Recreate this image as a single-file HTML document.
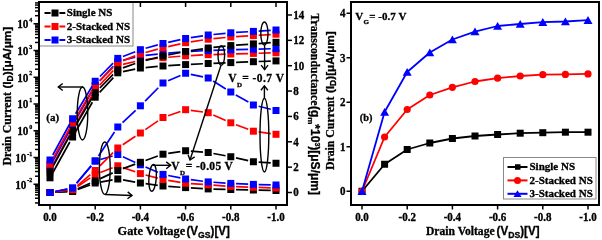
<!DOCTYPE html>
<html><head><meta charset="utf-8"><style>
html,body{margin:0;padding:0;background:#fff;}
svg{display:block;filter:blur(0.3px);}
text{stroke:#000;stroke-width:0.3px;}
</style></head><body>
<svg width="602" height="240" viewBox="0 0 602 240">
<rect width="602" height="240" fill="#fff"/>
<path d="M52.79 172.77L69.81 142.03 M75.45 131.98L92.35 102.22 M99.63 92.42L113.37 77.58 M123.01 71.69L135.19 69.11 M145.64 67.54L157.76 66.46 M168.25 65.67L180.35 64.93 M190.85 64.34L202.95 63.76 M213.45 63.29L225.55 62.81 M236.05 62.39L248.15 61.91 M258.65 61.51L270.75 61.09" fill="none" stroke="#000000" stroke-width="1.7"/>
<rect x="46.50" y="174.30" width="7" height="7" fill="#000000"/>
<rect x="69.10" y="133.50" width="7" height="7" fill="#000000"/>
<rect x="91.70" y="93.70" width="7" height="7" fill="#000000"/>
<rect x="114.30" y="69.30" width="7" height="7" fill="#000000"/>
<rect x="136.90" y="64.50" width="7" height="7" fill="#000000"/>
<rect x="159.50" y="62.50" width="7" height="7" fill="#000000"/>
<rect x="182.10" y="61.10" width="7" height="7" fill="#000000"/>
<rect x="204.70" y="60.00" width="7" height="7" fill="#000000"/>
<rect x="227.30" y="59.10" width="7" height="7" fill="#000000"/>
<rect x="249.90" y="58.20" width="7" height="7" fill="#000000"/>
<rect x="272.50" y="57.40" width="7" height="7" fill="#000000"/>
<path d="M52.79 165.17L69.81 134.43 M75.47 124.38L92.33 94.92 M99.66 85.12L113.34 70.48 M123.00 64.43L135.20 61.47 M145.64 59.62L157.76 58.28 M168.24 57.26L180.36 56.24 M190.85 55.54L202.95 54.96 M213.45 54.54L225.55 54.16 M236.05 53.86L248.15 53.54 M258.65 53.26L270.75 52.94" fill="none" stroke="#ff0000" stroke-width="1.7"/>
<rect x="46.50" y="166.70" width="7" height="7" fill="#ff0000"/>
<rect x="69.10" y="125.90" width="7" height="7" fill="#ff0000"/>
<rect x="91.70" y="86.40" width="7" height="7" fill="#ff0000"/>
<rect x="114.30" y="62.20" width="7" height="7" fill="#ff0000"/>
<rect x="136.90" y="56.70" width="7" height="7" fill="#ff0000"/>
<rect x="159.50" y="54.20" width="7" height="7" fill="#ff0000"/>
<rect x="182.10" y="52.30" width="7" height="7" fill="#ff0000"/>
<rect x="204.70" y="51.20" width="7" height="7" fill="#ff0000"/>
<rect x="227.30" y="50.50" width="7" height="7" fill="#ff0000"/>
<rect x="249.90" y="49.90" width="7" height="7" fill="#ff0000"/>
<rect x="272.50" y="49.30" width="7" height="7" fill="#ff0000"/>
<path d="M52.79 160.97L69.81 130.23 M75.47 120.18L92.33 90.72 M99.66 80.92L113.34 66.28 M123.00 60.23L135.20 57.27 M145.64 55.42L157.76 54.08 M168.24 53.06L180.36 52.04 M190.85 51.34L202.95 50.76 M213.45 50.34L225.55 49.96 M236.05 49.66L248.15 49.34 M258.65 49.06L270.75 48.74" fill="none" stroke="#0000ff" stroke-width="1.7"/>
<rect x="46.50" y="162.50" width="7" height="7" fill="#0000ff"/>
<rect x="69.10" y="121.70" width="7" height="7" fill="#0000ff"/>
<rect x="91.70" y="82.20" width="7" height="7" fill="#0000ff"/>
<rect x="114.30" y="58.00" width="7" height="7" fill="#0000ff"/>
<rect x="136.90" y="52.50" width="7" height="7" fill="#0000ff"/>
<rect x="159.50" y="50.00" width="7" height="7" fill="#0000ff"/>
<rect x="182.10" y="48.10" width="7" height="7" fill="#0000ff"/>
<rect x="204.70" y="47.00" width="7" height="7" fill="#0000ff"/>
<rect x="227.30" y="46.30" width="7" height="7" fill="#0000ff"/>
<rect x="249.90" y="45.70" width="7" height="7" fill="#0000ff"/>
<rect x="272.50" y="45.10" width="7" height="7" fill="#0000ff"/>
<path d="M52.76 166.77L69.84 135.58 M75.59 125.55L92.21 97.75 M99.86 88.00L113.14 74.45 M122.95 67.88L135.25 63.52 M145.60 60.39L157.80 57.31 M168.22 54.96L180.38 52.54 M190.83 50.69L202.97 48.81 M213.44 47.44L225.56 46.16 M236.05 45.21L248.15 44.29 M258.65 43.53L270.75 42.67" fill="none" stroke="#000000" stroke-width="1.7"/>
<rect x="46.50" y="168.30" width="7" height="7" fill="#000000"/>
<rect x="69.10" y="127.05" width="7" height="7" fill="#000000"/>
<rect x="91.70" y="89.25" width="7" height="7" fill="#000000"/>
<rect x="114.30" y="66.20" width="7" height="7" fill="#000000"/>
<rect x="136.90" y="58.20" width="7" height="7" fill="#000000"/>
<rect x="159.50" y="52.50" width="7" height="7" fill="#000000"/>
<rect x="182.10" y="48.00" width="7" height="7" fill="#000000"/>
<rect x="204.70" y="44.50" width="7" height="7" fill="#000000"/>
<rect x="227.30" y="42.10" width="7" height="7" fill="#000000"/>
<rect x="249.90" y="40.40" width="7" height="7" fill="#000000"/>
<rect x="272.50" y="38.80" width="7" height="7" fill="#000000"/>
<path d="M52.76 159.17L69.84 127.98 M75.61 117.95L92.19 90.45 M99.89 80.71L113.11 67.34 M122.93 60.62L135.27 55.88 M145.59 52.48L157.81 49.12 M168.21 46.55L180.39 43.85 M190.83 41.89L202.97 40.01 M213.44 38.69L225.56 37.51 M236.05 36.67L248.15 35.93 M258.65 35.27L270.75 34.53" fill="none" stroke="#ff0000" stroke-width="1.7"/>
<rect x="46.50" y="160.70" width="7" height="7" fill="#ff0000"/>
<rect x="69.10" y="119.45" width="7" height="7" fill="#ff0000"/>
<rect x="91.70" y="81.95" width="7" height="7" fill="#ff0000"/>
<rect x="114.30" y="59.10" width="7" height="7" fill="#ff0000"/>
<rect x="136.90" y="50.40" width="7" height="7" fill="#ff0000"/>
<rect x="159.50" y="44.20" width="7" height="7" fill="#ff0000"/>
<rect x="182.10" y="39.20" width="7" height="7" fill="#ff0000"/>
<rect x="204.70" y="35.70" width="7" height="7" fill="#ff0000"/>
<rect x="227.30" y="33.50" width="7" height="7" fill="#ff0000"/>
<rect x="249.90" y="32.10" width="7" height="7" fill="#ff0000"/>
<rect x="272.50" y="30.70" width="7" height="7" fill="#ff0000"/>
<path d="M52.76 154.97L69.84 123.78 M75.61 113.75L92.19 86.25 M99.89 76.51L113.11 63.14 M122.93 56.42L135.27 51.68 M145.59 48.28L157.81 44.92 M168.21 42.35L180.39 39.65 M190.83 37.69L202.97 35.81 M213.44 34.49L225.56 33.31 M236.05 32.47L248.15 31.73 M258.65 31.07L270.75 30.33" fill="none" stroke="#0000ff" stroke-width="1.7"/>
<rect x="46.50" y="156.50" width="7" height="7" fill="#0000ff"/>
<rect x="69.10" y="115.25" width="7" height="7" fill="#0000ff"/>
<rect x="91.70" y="77.75" width="7" height="7" fill="#0000ff"/>
<rect x="114.30" y="54.90" width="7" height="7" fill="#0000ff"/>
<rect x="136.90" y="46.20" width="7" height="7" fill="#0000ff"/>
<rect x="159.50" y="40.00" width="7" height="7" fill="#0000ff"/>
<rect x="182.10" y="35.00" width="7" height="7" fill="#0000ff"/>
<rect x="204.70" y="31.50" width="7" height="7" fill="#0000ff"/>
<rect x="227.30" y="29.30" width="7" height="7" fill="#0000ff"/>
<rect x="249.90" y="27.90" width="7" height="7" fill="#0000ff"/>
<rect x="272.50" y="26.50" width="7" height="7" fill="#0000ff"/>
<path d="M55.25 192.27L67.35 191.73 M77.74 189.57L90.06 184.93 M100.42 182.08L112.58 179.92 M123.02 179.92L135.18 182.08 M145.63 183.69L157.77 185.31 M168.25 186.37L180.35 187.23 M190.85 187.90L202.95 188.60 M213.45 189.04L225.55 189.36 M236.05 189.62L248.15 189.88 M258.65 190.12L270.75 190.38" fill="none" stroke="#000000" stroke-width="1.7"/>
<rect x="46.50" y="189.00" width="7" height="7" fill="#000000"/>
<rect x="69.10" y="188.00" width="7" height="7" fill="#000000"/>
<rect x="91.70" y="179.50" width="7" height="7" fill="#000000"/>
<rect x="114.30" y="175.50" width="7" height="7" fill="#000000"/>
<rect x="136.90" y="179.50" width="7" height="7" fill="#000000"/>
<rect x="159.50" y="182.50" width="7" height="7" fill="#000000"/>
<rect x="182.10" y="184.10" width="7" height="7" fill="#000000"/>
<rect x="204.70" y="185.40" width="7" height="7" fill="#000000"/>
<rect x="227.30" y="186.00" width="7" height="7" fill="#000000"/>
<rect x="249.90" y="186.50" width="7" height="7" fill="#000000"/>
<rect x="272.50" y="187.00" width="7" height="7" fill="#000000"/>
<path d="M55.24 191.92L67.36 190.58 M77.54 186.61L90.26 177.89 M100.33 172.52L112.67 167.78 M122.95 167.58L135.25 171.82 M145.59 174.96L157.81 178.14 M168.23 180.36L180.37 182.34 M190.85 183.57L202.95 184.43 M213.45 185.17L225.55 186.03 M236.05 186.61L248.15 187.09 M258.65 187.46L270.75 187.84" fill="none" stroke="#ff0000" stroke-width="1.7"/>
<rect x="46.50" y="189.00" width="7" height="7" fill="#ff0000"/>
<rect x="69.10" y="186.50" width="7" height="7" fill="#ff0000"/>
<rect x="91.70" y="171.00" width="7" height="7" fill="#ff0000"/>
<rect x="114.30" y="162.30" width="7" height="7" fill="#ff0000"/>
<rect x="136.90" y="170.10" width="7" height="7" fill="#ff0000"/>
<rect x="159.50" y="176.00" width="7" height="7" fill="#ff0000"/>
<rect x="182.10" y="179.70" width="7" height="7" fill="#ff0000"/>
<rect x="204.70" y="181.30" width="7" height="7" fill="#ff0000"/>
<rect x="227.30" y="182.90" width="7" height="7" fill="#ff0000"/>
<rect x="249.90" y="183.80" width="7" height="7" fill="#ff0000"/>
<rect x="272.50" y="184.50" width="7" height="7" fill="#ff0000"/>
<path d="M55.22 191.46L67.38 189.04 M76.65 183.16L91.15 165.84 M100.38 159.51L112.62 155.99 M122.89 156.82L135.31 162.48 M145.51 166.97L157.89 172.23 M168.21 175.46L180.39 177.94 M190.84 179.67L202.96 181.23 M213.45 182.25L225.55 183.05 M236.05 183.63L248.15 184.17 M258.65 184.54L270.75 184.86" fill="none" stroke="#0000ff" stroke-width="1.7"/>
<rect x="46.50" y="189.00" width="7" height="7" fill="#0000ff"/>
<rect x="69.10" y="184.50" width="7" height="7" fill="#0000ff"/>
<rect x="91.70" y="157.50" width="7" height="7" fill="#0000ff"/>
<rect x="114.30" y="151.00" width="7" height="7" fill="#0000ff"/>
<rect x="136.90" y="161.30" width="7" height="7" fill="#0000ff"/>
<rect x="159.50" y="170.90" width="7" height="7" fill="#0000ff"/>
<rect x="182.10" y="175.50" width="7" height="7" fill="#0000ff"/>
<rect x="204.70" y="178.40" width="7" height="7" fill="#0000ff"/>
<rect x="227.30" y="179.90" width="7" height="7" fill="#0000ff"/>
<rect x="249.90" y="180.90" width="7" height="7" fill="#0000ff"/>
<rect x="272.50" y="181.50" width="7" height="7" fill="#0000ff"/>
<path d="M55.25 192.15L67.35 191.35 M77.70 188.74L90.10 183.26 M100.29 178.64L112.71 172.86 M122.95 168.63L135.25 164.17 M145.55 160.46L157.85 156.04 M168.23 153.40L180.37 151.55 M190.84 151.16L202.96 152.09 M213.42 153.48L225.58 155.77 M236.01 157.90L248.19 160.60 M258.65 162.10L270.75 162.90" fill="none" stroke="#000000" stroke-width="1.7"/>
<rect x="46.50" y="189.00" width="7" height="7" fill="#000000"/>
<rect x="69.10" y="187.50" width="7" height="7" fill="#000000"/>
<rect x="91.70" y="177.50" width="7" height="7" fill="#000000"/>
<rect x="114.30" y="167.00" width="7" height="7" fill="#000000"/>
<rect x="136.90" y="158.80" width="7" height="7" fill="#000000"/>
<rect x="159.50" y="150.70" width="7" height="7" fill="#000000"/>
<rect x="182.10" y="147.25" width="7" height="7" fill="#000000"/>
<rect x="204.70" y="149.00" width="7" height="7" fill="#000000"/>
<rect x="227.30" y="153.25" width="7" height="7" fill="#000000"/>
<rect x="249.90" y="158.25" width="7" height="7" fill="#000000"/>
<rect x="272.50" y="159.75" width="7" height="7" fill="#000000"/>
<path d="M55.24 191.87L67.36 190.43 M77.43 185.67L90.37 174.63 M99.94 165.78L113.06 152.72 M122.76 144.71L135.44 136.29 M145.34 129.61L158.06 120.89 M168.15 115.72L180.45 111.48 M190.83 110.39L202.97 112.01 M213.30 114.98L225.70 120.52 M235.94 124.71L248.26 129.29 M258.63 131.92L270.77 133.58" fill="none" stroke="#ff0000" stroke-width="1.7"/>
<rect x="46.50" y="189.00" width="7" height="7" fill="#ff0000"/>
<rect x="69.10" y="186.30" width="7" height="7" fill="#ff0000"/>
<rect x="91.70" y="167.00" width="7" height="7" fill="#ff0000"/>
<rect x="114.30" y="144.50" width="7" height="7" fill="#ff0000"/>
<rect x="136.90" y="129.50" width="7" height="7" fill="#ff0000"/>
<rect x="159.50" y="114.00" width="7" height="7" fill="#ff0000"/>
<rect x="182.10" y="106.20" width="7" height="7" fill="#ff0000"/>
<rect x="204.70" y="109.20" width="7" height="7" fill="#ff0000"/>
<rect x="227.30" y="119.30" width="7" height="7" fill="#ff0000"/>
<rect x="249.90" y="127.70" width="7" height="7" fill="#ff0000"/>
<rect x="272.50" y="130.80" width="7" height="7" fill="#ff0000"/>
<path d="M55.22 191.48L67.38 189.12 M76.64 183.26L91.16 165.84 M98.50 156.04L114.50 131.96 M122.58 122.52L135.62 110.28 M145.10 101.06L158.30 87.74 M168.11 80.80L180.49 75.45 M190.81 74.35L202.99 76.90 M213.19 81.09L225.81 88.91 M235.82 94.89L248.38 102.11 M258.60 106.27L270.80 109.23" fill="none" stroke="#0000ff" stroke-width="1.7"/>
<rect x="46.50" y="189.00" width="7" height="7" fill="#0000ff"/>
<rect x="69.10" y="184.60" width="7" height="7" fill="#0000ff"/>
<rect x="91.70" y="157.50" width="7" height="7" fill="#0000ff"/>
<rect x="114.30" y="123.50" width="7" height="7" fill="#0000ff"/>
<rect x="136.90" y="102.30" width="7" height="7" fill="#0000ff"/>
<rect x="159.50" y="79.50" width="7" height="7" fill="#0000ff"/>
<rect x="182.10" y="69.75" width="7" height="7" fill="#0000ff"/>
<rect x="204.70" y="74.50" width="7" height="7" fill="#0000ff"/>
<rect x="227.30" y="88.50" width="7" height="7" fill="#0000ff"/>
<rect x="249.90" y="101.50" width="7" height="7" fill="#0000ff"/>
<rect x="272.50" y="107.00" width="7" height="7" fill="#0000ff"/>
<ellipse cx="82.5" cy="113.5" rx="5.25" ry="26.5" fill="none" stroke="#000" stroke-width="1.4" transform="rotate(0 82.5 113.5)"/>
<line x1="83" y1="87" x2="58.3" y2="87" stroke="#000" stroke-width="1.4"/>
<polyline points="62.71,90.45 58.3,87 62.71,83.55" fill="none" stroke="#000" stroke-width="1.4"/>
<ellipse cx="104.8" cy="168.2" rx="5.4" ry="26.2" fill="none" stroke="#000" stroke-width="1.4" transform="rotate(0 104.8 168.2)"/>
<line x1="105" y1="194.5" x2="132" y2="195.5" stroke="#000" stroke-width="1.4"/>
<polyline points="127.72,191.89 132,195.5 127.46,198.78" fill="none" stroke="#000" stroke-width="1.4"/>
<ellipse cx="152.6" cy="177.9" rx="3.7" ry="13.4" fill="none" stroke="#000" stroke-width="1.4" transform="rotate(4 152.6 177.9)"/>
<line x1="153" y1="165.3" x2="170.6" y2="165.3" stroke="#000" stroke-width="1.4"/>
<polyline points="166.19,161.85 170.6,165.3 166.19,168.75" fill="none" stroke="#000" stroke-width="1.4"/>
<ellipse cx="221.3" cy="55.5" rx="3.3" ry="9.8" fill="none" stroke="#000" stroke-width="1.4" transform="rotate(0 221.3 55.5)"/>
<line x1="221" y1="65.3" x2="190" y2="160" stroke="#000" stroke-width="1.4"/>
<polyline points="194.65,156.88 190,160 188.10,154.73" fill="none" stroke="#000" stroke-width="1.4"/>
<ellipse cx="264.4" cy="33.5" rx="3.6" ry="11.5" fill="none" stroke="#000" stroke-width="1.4" transform="rotate(0 264.4 33.5)"/>
<line x1="264.6" y1="45" x2="264.6" y2="69.6" stroke="#000" stroke-width="1.4"/>
<polyline points="268.05,65.19 264.6,69.6 261.15,65.19" fill="none" stroke="#000" stroke-width="1.4"/>
<ellipse cx="264.4" cy="135.1" rx="4.4" ry="36.9" fill="none" stroke="#000" stroke-width="1.4" transform="rotate(0 264.4 135.1)"/>
<line x1="264.4" y1="98.3" x2="264.4" y2="85.8" stroke="#000" stroke-width="1.4"/>
<polyline points="260.95,90.21 264.4,85.8 267.85,90.21" fill="none" stroke="#000" stroke-width="1.4"/>
<rect x="39" y="2" width="248" height="203" fill="none" stroke="#000" stroke-width="2"/>
<line x1="50.0" y1="205" x2="50.0" y2="209.5" stroke="#000" stroke-width="1.5"/>
<line x1="50.0" y1="2" x2="50.0" y2="7" stroke="#000" stroke-width="1.5"/>
<line x1="95.2" y1="205" x2="95.2" y2="209.5" stroke="#000" stroke-width="1.5"/>
<line x1="95.2" y1="2" x2="95.2" y2="7" stroke="#000" stroke-width="1.5"/>
<line x1="140.4" y1="205" x2="140.4" y2="209.5" stroke="#000" stroke-width="1.5"/>
<line x1="140.4" y1="2" x2="140.4" y2="7" stroke="#000" stroke-width="1.5"/>
<line x1="185.60000000000002" y1="205" x2="185.60000000000002" y2="209.5" stroke="#000" stroke-width="1.5"/>
<line x1="185.60000000000002" y1="2" x2="185.60000000000002" y2="7" stroke="#000" stroke-width="1.5"/>
<line x1="230.8" y1="205" x2="230.8" y2="209.5" stroke="#000" stroke-width="1.5"/>
<line x1="230.8" y1="2" x2="230.8" y2="7" stroke="#000" stroke-width="1.5"/>
<line x1="276.0" y1="205" x2="276.0" y2="209.5" stroke="#000" stroke-width="1.5"/>
<line x1="276.0" y1="2" x2="276.0" y2="7" stroke="#000" stroke-width="1.5"/>
<line x1="33.5" y1="184.25" x2="39" y2="184.25" stroke="#000" stroke-width="1.5"/>
<line x1="33.5" y1="157.50" x2="39" y2="157.50" stroke="#000" stroke-width="1.5"/>
<line x1="33.5" y1="130.75" x2="39" y2="130.75" stroke="#000" stroke-width="1.5"/>
<line x1="33.5" y1="104.00" x2="39" y2="104.00" stroke="#000" stroke-width="1.5"/>
<line x1="33.5" y1="77.25" x2="39" y2="77.25" stroke="#000" stroke-width="1.5"/>
<line x1="33.5" y1="50.50" x2="39" y2="50.50" stroke="#000" stroke-width="1.5"/>
<line x1="33.5" y1="23.75" x2="39" y2="23.75" stroke="#000" stroke-width="1.5"/>
<line x1="35" y1="202.95" x2="39" y2="202.95" stroke="#000" stroke-width="1.5"/>
<line x1="35" y1="198.24" x2="39" y2="198.24" stroke="#000" stroke-width="1.5"/>
<line x1="35" y1="194.89" x2="39" y2="194.89" stroke="#000" stroke-width="1.5"/>
<line x1="35" y1="192.30" x2="39" y2="192.30" stroke="#000" stroke-width="1.5"/>
<line x1="35" y1="190.18" x2="39" y2="190.18" stroke="#000" stroke-width="1.5"/>
<line x1="35" y1="188.39" x2="39" y2="188.39" stroke="#000" stroke-width="1.5"/>
<line x1="35" y1="186.84" x2="39" y2="186.84" stroke="#000" stroke-width="1.5"/>
<line x1="35" y1="185.47" x2="39" y2="185.47" stroke="#000" stroke-width="1.5"/>
<line x1="35" y1="176.20" x2="39" y2="176.20" stroke="#000" stroke-width="1.5"/>
<line x1="35" y1="171.49" x2="39" y2="171.49" stroke="#000" stroke-width="1.5"/>
<line x1="35" y1="168.14" x2="39" y2="168.14" stroke="#000" stroke-width="1.5"/>
<line x1="35" y1="165.55" x2="39" y2="165.55" stroke="#000" stroke-width="1.5"/>
<line x1="35" y1="163.43" x2="39" y2="163.43" stroke="#000" stroke-width="1.5"/>
<line x1="35" y1="161.64" x2="39" y2="161.64" stroke="#000" stroke-width="1.5"/>
<line x1="35" y1="160.09" x2="39" y2="160.09" stroke="#000" stroke-width="1.5"/>
<line x1="35" y1="158.72" x2="39" y2="158.72" stroke="#000" stroke-width="1.5"/>
<line x1="35" y1="149.45" x2="39" y2="149.45" stroke="#000" stroke-width="1.5"/>
<line x1="35" y1="144.74" x2="39" y2="144.74" stroke="#000" stroke-width="1.5"/>
<line x1="35" y1="141.39" x2="39" y2="141.39" stroke="#000" stroke-width="1.5"/>
<line x1="35" y1="138.80" x2="39" y2="138.80" stroke="#000" stroke-width="1.5"/>
<line x1="35" y1="136.68" x2="39" y2="136.68" stroke="#000" stroke-width="1.5"/>
<line x1="35" y1="134.89" x2="39" y2="134.89" stroke="#000" stroke-width="1.5"/>
<line x1="35" y1="133.34" x2="39" y2="133.34" stroke="#000" stroke-width="1.5"/>
<line x1="35" y1="131.97" x2="39" y2="131.97" stroke="#000" stroke-width="1.5"/>
<line x1="35" y1="122.70" x2="39" y2="122.70" stroke="#000" stroke-width="1.5"/>
<line x1="35" y1="117.99" x2="39" y2="117.99" stroke="#000" stroke-width="1.5"/>
<line x1="35" y1="114.64" x2="39" y2="114.64" stroke="#000" stroke-width="1.5"/>
<line x1="35" y1="112.05" x2="39" y2="112.05" stroke="#000" stroke-width="1.5"/>
<line x1="35" y1="109.93" x2="39" y2="109.93" stroke="#000" stroke-width="1.5"/>
<line x1="35" y1="108.14" x2="39" y2="108.14" stroke="#000" stroke-width="1.5"/>
<line x1="35" y1="106.59" x2="39" y2="106.59" stroke="#000" stroke-width="1.5"/>
<line x1="35" y1="105.22" x2="39" y2="105.22" stroke="#000" stroke-width="1.5"/>
<line x1="35" y1="95.95" x2="39" y2="95.95" stroke="#000" stroke-width="1.5"/>
<line x1="35" y1="91.24" x2="39" y2="91.24" stroke="#000" stroke-width="1.5"/>
<line x1="35" y1="87.89" x2="39" y2="87.89" stroke="#000" stroke-width="1.5"/>
<line x1="35" y1="85.30" x2="39" y2="85.30" stroke="#000" stroke-width="1.5"/>
<line x1="35" y1="83.18" x2="39" y2="83.18" stroke="#000" stroke-width="1.5"/>
<line x1="35" y1="81.39" x2="39" y2="81.39" stroke="#000" stroke-width="1.5"/>
<line x1="35" y1="79.84" x2="39" y2="79.84" stroke="#000" stroke-width="1.5"/>
<line x1="35" y1="78.47" x2="39" y2="78.47" stroke="#000" stroke-width="1.5"/>
<line x1="35" y1="69.20" x2="39" y2="69.20" stroke="#000" stroke-width="1.5"/>
<line x1="35" y1="64.49" x2="39" y2="64.49" stroke="#000" stroke-width="1.5"/>
<line x1="35" y1="61.14" x2="39" y2="61.14" stroke="#000" stroke-width="1.5"/>
<line x1="35" y1="58.55" x2="39" y2="58.55" stroke="#000" stroke-width="1.5"/>
<line x1="35" y1="56.43" x2="39" y2="56.43" stroke="#000" stroke-width="1.5"/>
<line x1="35" y1="54.64" x2="39" y2="54.64" stroke="#000" stroke-width="1.5"/>
<line x1="35" y1="53.09" x2="39" y2="53.09" stroke="#000" stroke-width="1.5"/>
<line x1="35" y1="51.72" x2="39" y2="51.72" stroke="#000" stroke-width="1.5"/>
<line x1="35" y1="42.45" x2="39" y2="42.45" stroke="#000" stroke-width="1.5"/>
<line x1="35" y1="37.74" x2="39" y2="37.74" stroke="#000" stroke-width="1.5"/>
<line x1="35" y1="34.39" x2="39" y2="34.39" stroke="#000" stroke-width="1.5"/>
<line x1="35" y1="31.80" x2="39" y2="31.80" stroke="#000" stroke-width="1.5"/>
<line x1="35" y1="29.68" x2="39" y2="29.68" stroke="#000" stroke-width="1.5"/>
<line x1="35" y1="27.89" x2="39" y2="27.89" stroke="#000" stroke-width="1.5"/>
<line x1="35" y1="26.34" x2="39" y2="26.34" stroke="#000" stroke-width="1.5"/>
<line x1="35" y1="24.97" x2="39" y2="24.97" stroke="#000" stroke-width="1.5"/>
<line x1="35" y1="15.70" x2="39" y2="15.70" stroke="#000" stroke-width="1.5"/>
<line x1="35" y1="10.99" x2="39" y2="10.99" stroke="#000" stroke-width="1.5"/>
<line x1="35" y1="7.64" x2="39" y2="7.64" stroke="#000" stroke-width="1.5"/>
<line x1="35" y1="5.05" x2="39" y2="5.05" stroke="#000" stroke-width="1.5"/>
<line x1="35" y1="2.93" x2="39" y2="2.93" stroke="#000" stroke-width="1.5"/>
<line x1="287" y1="192.50" x2="292" y2="192.50" stroke="#000" stroke-width="1.5"/>
<text transform="translate(293.3,196.40) scale(1,1.15)" font-family="'Liberation Serif', serif" font-weight="bold" font-size="11">0</text>
<line x1="287" y1="167.14" x2="292" y2="167.14" stroke="#000" stroke-width="1.5"/>
<text transform="translate(293.3,171.04) scale(1,1.15)" font-family="'Liberation Serif', serif" font-weight="bold" font-size="11">2</text>
<line x1="287" y1="141.78" x2="292" y2="141.78" stroke="#000" stroke-width="1.5"/>
<text transform="translate(293.3,145.68) scale(1,1.15)" font-family="'Liberation Serif', serif" font-weight="bold" font-size="11">4</text>
<line x1="287" y1="116.42" x2="292" y2="116.42" stroke="#000" stroke-width="1.5"/>
<text transform="translate(293.3,120.32) scale(1,1.15)" font-family="'Liberation Serif', serif" font-weight="bold" font-size="11">6</text>
<line x1="287" y1="91.06" x2="292" y2="91.06" stroke="#000" stroke-width="1.5"/>
<text transform="translate(293.3,94.96) scale(1,1.15)" font-family="'Liberation Serif', serif" font-weight="bold" font-size="11">8</text>
<line x1="287" y1="65.70" x2="292" y2="65.70" stroke="#000" stroke-width="1.5"/>
<text transform="translate(293.3,69.60) scale(1,1.15)" font-family="'Liberation Serif', serif" font-weight="bold" font-size="11">10</text>
<line x1="287" y1="40.34" x2="292" y2="40.34" stroke="#000" stroke-width="1.5"/>
<text transform="translate(293.3,44.24) scale(1,1.15)" font-family="'Liberation Serif', serif" font-weight="bold" font-size="11">12</text>
<line x1="287" y1="14.98" x2="292" y2="14.98" stroke="#000" stroke-width="1.5"/>
<text transform="translate(293.3,18.88) scale(1,1.15)" font-family="'Liberation Serif', serif" font-weight="bold" font-size="11">14</text>
<text transform="translate(50.0,220.9) scale(1,1.15)" text-anchor="middle" font-family="'Liberation Serif', serif" font-weight="bold" font-size="11">0.0</text>
<text transform="translate(95.2,220.9) scale(1,1.15)" text-anchor="middle" font-family="'Liberation Serif', serif" font-weight="bold" font-size="11">-0.2</text>
<text transform="translate(140.4,220.9) scale(1,1.15)" text-anchor="middle" font-family="'Liberation Serif', serif" font-weight="bold" font-size="11">-0.4</text>
<text transform="translate(185.60000000000002,220.9) scale(1,1.15)" text-anchor="middle" font-family="'Liberation Serif', serif" font-weight="bold" font-size="11">-0.6</text>
<text transform="translate(230.8,220.9) scale(1,1.15)" text-anchor="middle" font-family="'Liberation Serif', serif" font-weight="bold" font-size="11">-0.8</text>
<text transform="translate(276.0,220.9) scale(1,1.15)" text-anchor="middle" font-family="'Liberation Serif', serif" font-weight="bold" font-size="11">-1.0</text>
<text transform="translate(32.3,188.55) scale(1,1.12)" text-anchor="end" font-family="'Liberation Serif', serif" font-weight="bold" font-size="11.2">10<tspan font-size="6" dx="0.9" dy="-5.5">-2</tspan></text>
<text transform="translate(32.3,161.80) scale(1,1.12)" text-anchor="end" font-family="'Liberation Serif', serif" font-weight="bold" font-size="11.2">10<tspan font-size="6" dx="0.9" dy="-5.5">-1</tspan></text>
<text transform="translate(32.3,135.05) scale(1,1.12)" text-anchor="end" font-family="'Liberation Serif', serif" font-weight="bold" font-size="11.2">10<tspan font-size="6" dx="0.9" dy="-5.5">0</tspan></text>
<text transform="translate(32.3,108.30) scale(1,1.12)" text-anchor="end" font-family="'Liberation Serif', serif" font-weight="bold" font-size="11.2">10<tspan font-size="6" dx="0.9" dy="-5.5">1</tspan></text>
<text transform="translate(32.3,81.55) scale(1,1.12)" text-anchor="end" font-family="'Liberation Serif', serif" font-weight="bold" font-size="11.2">10<tspan font-size="6" dx="0.9" dy="-5.5">2</tspan></text>
<text transform="translate(32.3,54.80) scale(1,1.12)" text-anchor="end" font-family="'Liberation Serif', serif" font-weight="bold" font-size="11.2">10<tspan font-size="6" dx="0.9" dy="-5.5">3</tspan></text>
<text transform="translate(32.3,28.05) scale(1,1.12)" text-anchor="end" font-family="'Liberation Serif', serif" font-weight="bold" font-size="11.2">10<tspan font-size="6" dx="0.9" dy="-5.5">4</tspan></text>
<rect x="38.5" y="2.5" width="94.5" height="43.5" fill="#fff" stroke="#888" stroke-width="1"/>
<path d="M44.5 13.0H50.6M59.4 13.0H65.3" stroke="#000000" stroke-width="2"/>
<rect x="51.5" y="9.5" width="7" height="7" fill="#000000"/>
<text x="66.8" y="16.3" font-family="'Liberation Serif', serif" font-weight="bold" font-size="11">Single NS</text>
<path d="M44.5 26.5H50.6M59.4 26.5H65.3" stroke="#ff0000" stroke-width="2"/>
<rect x="51.5" y="23.0" width="7" height="7" fill="#ff0000"/>
<text x="66.8" y="29.8" font-family="'Liberation Serif', serif" font-weight="bold" font-size="11">2-Stacked NS</text>
<path d="M44.5 40.0H50.6M59.4 40.0H65.3" stroke="#0000ff" stroke-width="2"/>
<rect x="51.5" y="36.5" width="7" height="7" fill="#0000ff"/>
<text x="66.8" y="43.3" font-family="'Liberation Serif', serif" font-weight="bold" font-size="11">3-Stacked NS</text>
<rect x="39" y="2" width="248" height="203" fill="none" stroke="#000" stroke-width="2"/>
<text x="46.3" y="120.5" font-family="'Liberation Serif', serif" font-weight="bold" font-size="11">(a)</text>
<text x="228.2" y="82" font-family="'Liberation Serif', serif" font-weight="bold" font-size="11.5">V</text>
<text x="236.9" y="86.8" font-family="'Liberation Serif', serif" font-weight="bold" font-size="7">D</text>
<text x="242.2" y="82" font-family="'Liberation Serif', serif" font-weight="bold" font-size="11.5" textLength="41.8" lengthAdjust="spacing">= -0.7 V</text>
<text x="171.3" y="170.1" font-family="'Liberation Serif', serif" font-weight="bold" font-size="11.5">V</text>
<text x="180.1" y="174.9" font-family="'Liberation Serif', serif" font-weight="bold" font-size="7">D</text>
<text x="185.8" y="170.1" font-family="'Liberation Serif', serif" font-weight="bold" font-size="11.5" textLength="47" lengthAdjust="spacing">= -0.05 V</text>
<text x="117.6" y="234.6" font-family="'Liberation Serif', serif" font-weight="bold" font-size="12.35">Gate Voltage</text>
<text transform="translate(186.5,234.6) scale(0.965,1)" font-family="'Liberation Sans', sans-serif" font-weight="bold" font-size="12">(V<tspan font-size="9" dy="3.2">GS</tspan><tspan dy="-3.2">)[V]</tspan></text>
<g transform="translate(10.6,165.6) rotate(-90)"><text x="0" y="0" font-family="'Liberation Serif', serif" font-weight="bold" font-size="11.8">Drain Current</text><text x="77" y="0" font-family="'Liberation Sans', sans-serif" font-weight="bold" font-size="11.8">(I<tspan font-size="8.5" dy="2.5">D</tspan><tspan dy="-2.5">)[μA/μm]</tspan></text></g>
<g transform="translate(310.6,13.6) rotate(90)"><text x="0" y="0" font-family="'Liberation Serif', serif" font-weight="bold" font-size="11.75">Transconductance</text><text x="92.3" y="0" font-family="'Liberation Sans', sans-serif" font-weight="bold" font-size="12">(g<tspan font-size="8" dy="2.5">m</tspan><tspan dy="-2.5">*10</tspan><tspan font-size="7" dy="-4">3</tspan><tspan dy="4">)[μS/μm]</tspan></text></g>
<polyline points="362.00,191.25 384.60,164.25 407.20,149.50 429.80,143.00 452.40,138.50 475.00,136.00 497.60,134.50 520.20,133.20 542.80,132.70 565.40,132.20 588.00,132.20" fill="none" stroke="#000000" stroke-width="1.8" stroke-linejoin="round"/>
<rect x="358.50" y="187.75" width="7" height="7" fill="#000000"/>
<rect x="381.10" y="160.75" width="7" height="7" fill="#000000"/>
<rect x="403.70" y="146.00" width="7" height="7" fill="#000000"/>
<rect x="426.30" y="139.50" width="7" height="7" fill="#000000"/>
<rect x="448.90" y="135.00" width="7" height="7" fill="#000000"/>
<rect x="471.50" y="132.50" width="7" height="7" fill="#000000"/>
<rect x="494.10" y="131.00" width="7" height="7" fill="#000000"/>
<rect x="516.70" y="129.70" width="7" height="7" fill="#000000"/>
<rect x="539.30" y="129.20" width="7" height="7" fill="#000000"/>
<rect x="561.90" y="128.70" width="7" height="7" fill="#000000"/>
<rect x="584.50" y="128.70" width="7" height="7" fill="#000000"/>
<polyline points="362.00,191.25 384.60,137.00 407.20,109.50 429.80,95.00 452.40,87.30 475.00,81.50 497.60,78.20 520.20,76.00 542.80,74.70 565.40,74.40 588.00,73.90" fill="none" stroke="#ff0000" stroke-width="1.8" stroke-linejoin="round"/>
<circle cx="362.00" cy="191.25" r="3.6" fill="#ff0000"/>
<circle cx="384.60" cy="137.00" r="3.6" fill="#ff0000"/>
<circle cx="407.20" cy="109.50" r="3.6" fill="#ff0000"/>
<circle cx="429.80" cy="95.00" r="3.6" fill="#ff0000"/>
<circle cx="452.40" cy="87.30" r="3.6" fill="#ff0000"/>
<circle cx="475.00" cy="81.50" r="3.6" fill="#ff0000"/>
<circle cx="497.60" cy="78.20" r="3.6" fill="#ff0000"/>
<circle cx="520.20" cy="76.00" r="3.6" fill="#ff0000"/>
<circle cx="542.80" cy="74.70" r="3.6" fill="#ff0000"/>
<circle cx="565.40" cy="74.40" r="3.6" fill="#ff0000"/>
<circle cx="588.00" cy="73.90" r="3.6" fill="#ff0000"/>
<polyline points="362.00,191.25 384.60,112.00 407.20,72.00 429.80,52.50 452.40,39.50 475.00,31.60 497.60,26.00 520.20,24.00 542.80,22.20 565.40,21.50 588.00,20.20" fill="none" stroke="#0000ff" stroke-width="1.8" stroke-linejoin="round"/>
<polygon points="362.00,187.17 366.50,194.97 357.50,194.97" fill="#0000ff"/>
<polygon points="384.60,107.92 389.10,115.72 380.10,115.72" fill="#0000ff"/>
<polygon points="407.20,67.92 411.70,75.72 402.70,75.72" fill="#0000ff"/>
<polygon points="429.80,48.42 434.30,56.22 425.30,56.22" fill="#0000ff"/>
<polygon points="452.40,35.42 456.90,43.22 447.90,43.22" fill="#0000ff"/>
<polygon points="475.00,27.52 479.50,35.32 470.50,35.32" fill="#0000ff"/>
<polygon points="497.60,21.92 502.10,29.72 493.10,29.72" fill="#0000ff"/>
<polygon points="520.20,19.92 524.70,27.72 515.70,27.72" fill="#0000ff"/>
<polygon points="542.80,18.12 547.30,25.92 538.30,25.92" fill="#0000ff"/>
<polygon points="565.40,17.42 569.90,25.22 560.90,25.22" fill="#0000ff"/>
<polygon points="588.00,16.12 592.50,23.92 583.50,23.92" fill="#0000ff"/>
<rect x="351" y="2" width="248" height="203" fill="none" stroke="#000" stroke-width="2"/>
<line x1="362.0" y1="205" x2="362.0" y2="209.5" stroke="#000" stroke-width="1.5"/>
<text transform="translate(362.0,220.9) scale(1,1.15)" text-anchor="middle" font-family="'Liberation Serif', serif" font-weight="bold" font-size="11">0.0</text>
<line x1="407.2" y1="205" x2="407.2" y2="209.5" stroke="#000" stroke-width="1.5"/>
<text transform="translate(407.2,220.9) scale(1,1.15)" text-anchor="middle" font-family="'Liberation Serif', serif" font-weight="bold" font-size="11">-0.2</text>
<line x1="452.4" y1="205" x2="452.4" y2="209.5" stroke="#000" stroke-width="1.5"/>
<text transform="translate(452.4,220.9) scale(1,1.15)" text-anchor="middle" font-family="'Liberation Serif', serif" font-weight="bold" font-size="11">-0.4</text>
<line x1="497.6" y1="205" x2="497.6" y2="209.5" stroke="#000" stroke-width="1.5"/>
<text transform="translate(497.6,220.9) scale(1,1.15)" text-anchor="middle" font-family="'Liberation Serif', serif" font-weight="bold" font-size="11">-0.6</text>
<line x1="542.8" y1="205" x2="542.8" y2="209.5" stroke="#000" stroke-width="1.5"/>
<text transform="translate(542.8,220.9) scale(1,1.15)" text-anchor="middle" font-family="'Liberation Serif', serif" font-weight="bold" font-size="11">-0.8</text>
<line x1="588.0" y1="205" x2="588.0" y2="209.5" stroke="#000" stroke-width="1.5"/>
<text transform="translate(588.0,220.9) scale(1,1.15)" text-anchor="middle" font-family="'Liberation Serif', serif" font-weight="bold" font-size="11">-1.0</text>
<line x1="346.5" y1="191.25" x2="351" y2="191.25" stroke="#000" stroke-width="1.5"/>
<text transform="translate(345.5,195.25) scale(1,1.15)" text-anchor="end" font-family="'Liberation Serif', serif" font-weight="bold" font-size="11">0</text>
<line x1="346.5" y1="146.75" x2="351" y2="146.75" stroke="#000" stroke-width="1.5"/>
<text transform="translate(345.5,150.75) scale(1,1.15)" text-anchor="end" font-family="'Liberation Serif', serif" font-weight="bold" font-size="11">1</text>
<line x1="346.5" y1="102.25" x2="351" y2="102.25" stroke="#000" stroke-width="1.5"/>
<text transform="translate(345.5,106.25) scale(1,1.15)" text-anchor="end" font-family="'Liberation Serif', serif" font-weight="bold" font-size="11">2</text>
<line x1="346.5" y1="57.75" x2="351" y2="57.75" stroke="#000" stroke-width="1.5"/>
<text transform="translate(345.5,61.75) scale(1,1.15)" text-anchor="end" font-family="'Liberation Serif', serif" font-weight="bold" font-size="11">3</text>
<line x1="346.5" y1="13.25" x2="351" y2="13.25" stroke="#000" stroke-width="1.5"/>
<text transform="translate(345.5,17.25) scale(1,1.15)" text-anchor="end" font-family="'Liberation Serif', serif" font-weight="bold" font-size="11">4</text>
<text x="355.2" y="19.6" font-family="'Liberation Serif', serif" font-weight="bold" font-size="11">V</text>
<text x="363.4" y="24.400000000000002" font-family="'Liberation Serif', serif" font-weight="bold" font-size="7">G</text>
<text x="369.2" y="19.6" font-family="'Liberation Serif', serif" font-weight="bold" font-size="11" textLength="37.2" lengthAdjust="spacing">= -0.7 V</text>
<text x="359.8" y="120.6" font-family="'Liberation Serif', serif" font-weight="bold" font-size="10.3">(b)</text>
<rect x="503.5" y="157.5" width="92.5" height="41.5" fill="#fff" stroke="#888" stroke-width="1"/>
<line x1="507.5" y1="167.0" x2="527.5" y2="167.0" stroke="#000000" stroke-width="2"/>
<rect x="515" y="164.25" width="5.5" height="5.5" fill="#000000"/>
<text x="529.5" y="170.1" font-family="'Liberation Serif', serif" font-weight="bold" font-size="11">Single NS</text>
<line x1="507.5" y1="180.4" x2="527.5" y2="180.4" stroke="#ff0000" stroke-width="2"/>
<circle cx="517.5" cy="180.4" r="3.5" fill="#ff0000"/>
<text x="529.5" y="183.5" font-family="'Liberation Serif', serif" font-weight="bold" font-size="11">2-Stacked NS</text>
<line x1="507.5" y1="193.8" x2="527.5" y2="193.8" stroke="#0000ff" stroke-width="2"/>
<polygon points="517.50,190.14 521.50,197.07 513.50,197.07" fill="#0000ff"/>
<text x="529.5" y="196.9" font-family="'Liberation Serif', serif" font-weight="bold" font-size="11">3-Stacked NS</text>
<text x="426" y="234.6" font-family="'Liberation Serif', serif" font-weight="bold" font-size="11.6">Drain Voltage</text>
<text transform="translate(496.6,234.6) scale(0.965,1)" font-family="'Liberation Sans', sans-serif" font-weight="bold" font-size="12">(V<tspan font-size="9" dy="3.2">DS</tspan><tspan dy="-3.2">)[V]</tspan></text>
<g transform="translate(333.6,170.1) rotate(-90)"><text x="0" y="0" font-family="'Liberation Serif', serif" font-weight="bold" font-size="11.8">Drain Current</text><text x="77" y="0" font-family="'Liberation Sans', sans-serif" font-weight="bold" font-size="11.8">(I<tspan font-size="8.5" dy="2.5">D</tspan><tspan dy="-2.5">)[μA/μm]</tspan></text></g>
</svg></body></html>
